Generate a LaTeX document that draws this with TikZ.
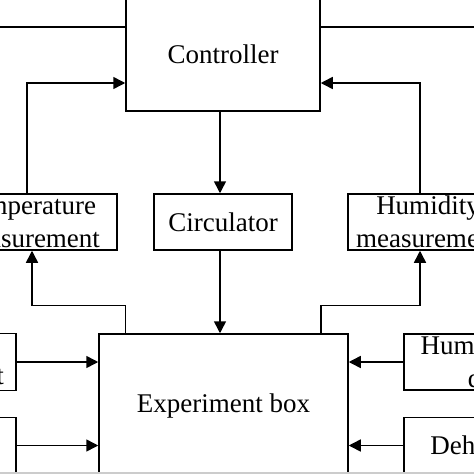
\documentclass[tikz,border=0pt]{standalone}
\usepackage{fontspec}
\setmainfont{Liberation Serif}
\usetikzlibrary{arrows.meta,calc}
\begin{document}
\begin{tikzpicture}[x=1pt,y=-1pt,
  box/.style={draw, line width=1.5pt, inner sep=0pt, align=center,
    font=\fontsize{27pt}{33pt}\selectfont},
  link/.style={line width=1.5pt},
  arr/.style={link, -{Triangle[length=12pt,width=12pt]}}]
\useasboundingbox (0,0) rectangle (474,474);
\clip (0,0) rectangle (474,474);
\fill[white] (0,0) rectangle (474,474);
% nodes
\node[box, minimum width=194pt, minimum height=114pt] (ctrl) at (223,54) {Controller};
\node[box, minimum width=138pt, minimum height=56pt] (circ) at (223,222) {Circulator};
\node[box, minimum width=178pt, minimum height=56pt] (temp) at (28,222) {Temperature\\measurement};
\node[box, minimum width=160pt, minimum height=56pt] (hum) at (428,222) {Humidity\\measurement};
\node[box, minimum width=249pt, minimum height=145pt] (exp) at (223.5,406.5) {Experiment box};
\node[box, minimum width=138pt, minimum height=56pt] (lb1) at (-53,362) {Heating\\equipment};
\node[box, minimum width=138pt, minimum height=56pt] (lb2) at (-53,445.5) {Cooler};
\node[box, minimum width=198pt, minimum height=56pt] (rb1) at (503,362) {Humidification\\device};
\node[box, minimum width=198pt, minimum height=56pt] (rb2) at (503,445.5) {Dehumidifier};
\coordinate (L1) at (-10,27);
\coordinate (R1) at (484,27);
% connectors
\draw[link] (ctrl.west |- L1) -- (L1);
\draw[link] (ctrl.east |- R1) -- (R1);
\draw[arr] ($(temp.north)+(-1,0)$) |- ($(ctrl.west)+(0,29)$);
\draw[arr] ($(hum.north)+(-8,0)$) |- ($(ctrl.east)+(0,29)$);
\draw[arr] ($(ctrl.south)+(-3,0)$) -- ($(circ.north)+(-3,0)$);
\draw[arr] ($(circ.south)+(-3,0)$) -- ($(circ.south |- exp.north)+(-3,0)$);
\draw[arr] (exp.north -| ctrl.south west) -- ++(0,-28) -| ($(temp.south)+(4,0)$);
\draw[arr] (exp.north -| ctrl.south east) -- ++(0,-28) -| ($(hum.south)+(-8,0)$);
\draw[arr] (lb1.east) -- (exp.west |- lb1.east);
\draw[arr] (lb2.east) -- (exp.west |- lb2.east);
\draw[arr] (rb1.west) -- (exp.east |- rb1.west);
\draw[arr] (rb2.west) -- (exp.east |- rb2.west);
\fill[black!20] (0,472) rectangle (474,474);
\end{tikzpicture}
\end{document}
